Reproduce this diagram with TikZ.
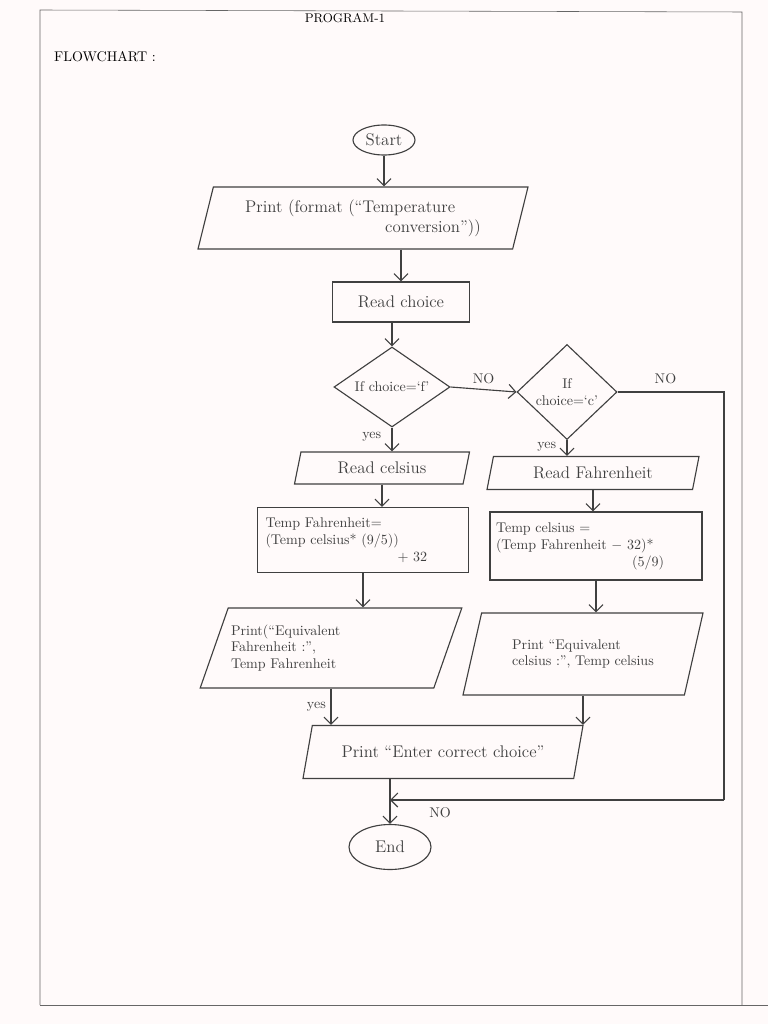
\documentclass[tikz,border=0pt]{standalone}
\usetikzlibrary{shapes.geometric,arrows.meta}
\begin{document}
\begin{tikzpicture}[x=0.025cm,y=-0.025cm,
  every node/.style={font=\large},
  line/.style={draw, thick, black!75},
  arr/.style={line, -{Straight Barb[length=5pt]}},
  term/.style={ellipse, line, minimum width=64*0.025cm, minimum height=30*0.025cm, inner sep=1pt},
  io/.style={trapezium, trapezium left angle=70, trapezium right angle=110, trapezium stretches body=true, line, align=left, inner sep=2pt},
  proc/.style={rectangle, line, align=left, inner sep=3pt},
  dec/.style={diamond, line, aspect=1.4, inner sep=0pt, align=center, font=\normalsize},
  lbl/.style={font=\normalsize}]
% Seite
\fill[pink!8] (0,0) rectangle (768,1024);
\useasboundingbox (0,0) rectangle (768,1024);
\draw[black!60] (40,1005) -- (40,10) -- (742,12) -- (742,1005);
\draw[black!60] (40,1005) -- (768,1005);
\node[font=\small] (title) at (345,18) {PROGRAM-1};
\node[font=\normalsize] (head) at (105,57) {FLOWCHART :};
% Knoten
\node[term, minimum width=62*0.025cm] (start) at (384,140) {Start};
\node[io, minimum width=330*0.025cm, minimum height=62*0.025cm] (prt) at (363,218) {Print (format (``Temperature\\\hspace{3.5cm}conversion''))};
\node[proc, minimum width=137*0.025cm, minimum height=40*0.025cm] (read) at (401,302) {Read choice};
\node[dec, minimum width=116*0.025cm, minimum height=80*0.025cm] (d1) at (392,387) {If choice=`f'};
\node[dec, minimum width=100*0.025cm, minimum height=95*0.025cm] (d2) at (567,392) {If\\choice=`c'};
\node[io, minimum width=175*0.025cm, minimum height=32*0.025cm] (rc) at (382,468) {Read celsius};
\node[io, minimum width=212*0.025cm, minimum height=33*0.025cm] (rf) at (593,473) {Read Fahrenheit};
\node[proc, minimum width=211*0.025cm, minimum height=65*0.025cm, text width=195*0.025cm, font=\normalsize] (tf) at (363,540) {Temp Fahrenheit=\\(Temp celsius* (9/5))\\\hspace*{3.3cm}+ 32};
\node[proc, minimum width=212*0.025cm, minimum height=68*0.025cm, text width=200*0.025cm, font=\normalsize] (tc) at (596,546) {Temp celsius =\\(Temp Fahrenheit $-$ 32)*\\\hspace*{3.4cm}(5/9)};
\node[io, trapezium left angle=62, trapezium right angle=118, minimum width=250*0.025cm, minimum height=80*0.025cm, text width=200*0.025cm, font=\normalsize] (pf) at (331,648) {Print(``Equivalent\\Fahrenheit :'',\\Temp Fahrenheit};
\node[io, trapezium left angle=62, trapezium right angle=118, minimum width=240*0.025cm, minimum height=82*0.025cm, font=\normalsize] (pc) at (583,654) {Print ``Equivalent\\celsius :'', Temp celsius};
\node[io, trapezium left angle=62, trapezium right angle=118, minimum width=280*0.025cm, minimum height=53*0.025cm] (pe) at (443,752) {Print ``Enter correct choice''};
\node[term, minimum width=82*0.025cm, minimum height=45*0.025cm] (stop) at (390,847) {End};
\coordinate (cr) at (724,392);
\coordinate (cb) at (724,800);
\coordinate (cj) at (stop |- cb);
% Verbindungen
\draw[arr] (start) -- (start |- prt.north);
\draw[arr] (prt.south -| read) -- (read);
\draw[arr] (read.south -| d1) -- (d1);
\draw[arr] (d1.east) -- (d2.west) node[lbl, pos=0.5, above] {NO};
\draw[arr] (d1.south) -- (d1.south |- rc.north) node[lbl, pos=0.4, left=4pt] {yes};
\draw[arr] (d2.south) -- (d2.south |- rf.north) node[lbl, pos=0.4, left=4pt] {yes};
\draw[arr] (rc.south) -- (rc.south |- tf.north);
\draw[arr] (rf.south) -- (rf.south |- tc.north);
\draw[arr] (tf.south) -- (tf.south |- pf.north);
\draw[arr] (tc.south) -- (tc.south |- pc.north);
\draw[arr] (pf.south) -- (pf.south |- pe.north) node[lbl, pos=0.5, left] {yes};
\draw[arr] (pc.south) -- (pc.south |- pe.north);
\draw[line] (d2.east) -- (cr) node[lbl, pos=0.45, above=2pt] {NO} -- (cb);
\draw[arr] (cb) -- (cj) node[lbl, pos=0.85, below=2pt] {NO};
\draw[arr] (stop |- pe.south) -- (stop.north);
\end{tikzpicture}
\end{document}
